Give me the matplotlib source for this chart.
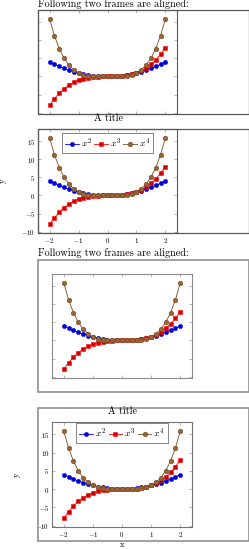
import numpy as np
import matplotlib
matplotlib.use('Agg')
import matplotlib.pyplot as plt
from matplotlib.patches import Rectangle

plt.rcParams['font.family'] = 'cmr10'
plt.rcParams['mathtext.fontset'] = 'cm'
plt.rcParams['axes.formatter.use_mathtext'] = True
plt.rcParams['axes.unicode_minus'] = True

W, H = 249, 549

# 25 samples on [-2, 2]
x = [-2.0, -1.833, -1.667, -1.5, -1.333, -1.167, -1.0, -0.833, -0.667, -0.5, -0.333, -0.167, 0.0,
     0.167, 0.333, 0.5, 0.667, 0.833, 1.0, 1.167, 1.333, 1.5, 1.667, 1.833, 2.0]
y_sq = [4.0, 3.361, 2.778, 2.25, 1.778, 1.361, 1.0, 0.694, 0.444, 0.25, 0.111, 0.028, 0.0,
        0.028, 0.111, 0.25, 0.444, 0.694, 1.0, 1.361, 1.778, 2.25, 2.778, 3.361, 4.0]
y_cube = [-8.0, -6.162, -4.630, -3.375, -2.370, -1.588, -1.0, -0.579, -0.296, -0.125, -0.037, -0.005, 0.0,
          0.005, 0.037, 0.125, 0.296, 0.579, 1.0, 1.588, 2.370, 3.375, 4.630, 6.162, 8.0]
y_quart = [16.0, 11.297, 7.716, 5.063, 3.160, 1.853, 1.0, 0.482, 0.198, 0.063, 0.012, 0.001, 0.0,
           0.001, 0.012, 0.063, 0.198, 0.482, 1.0, 1.853, 3.160, 5.063, 7.716, 11.297, 16.0]
labels = ['$x^2$', '$x^3$', '$x^4$']
xticks = [-2, -1, 0, 1, 2]
yticks = [-10, -5, 0, 5, 10, 15]

fig = plt.figure(figsize=(W / 100, H / 100), dpi=100)


def box(x0, y0, x1, y1):
    return [x0 / W, 1 - y1 / H, (x1 - x0) / W, (y1 - y0) / H]


def frame(x0, y0, x1, y1, color, lw):
    fig.patches.append(Rectangle((x0 / W, 1 - y1 / H), (x1 - x0) / W, (y1 - y0) / H,
                                 transform=fig.transFigure, fill=False,
                                 edgecolor=color, linewidth=lw, zorder=0))


def panel(rect, labels_on, spine_col, leg_top):
    ax = fig.add_axes(rect)
    ax.plot(x, y_sq, color='blue', lw=0.6, marker='o', ms=3.0,
            mfc=(0, 0, 0.8), mec='blue', mew=0.4, label=labels[0])
    ax.plot(x, y_cube, color='red', lw=0.6, marker='s', ms=2.9,
            mfc=(0.8, 0, 0), mec='red', mew=0.4, label=labels[1])
    ax.plot(x, y_quart, color=(0.45, 0.3, 0.15), lw=0.6, marker='o', ms=3.3,
            mfc=(0.6, 0.4, 0.2), mec=(0.45, 0.3, 0.15), mew=0.4, label=labels[2])
    ax.set_xlim(-2.4, 2.4)
    ax.set_ylim(-10.4, 18.4)
    ax.set_xticks(xticks)
    ax.set_yticks(yticks)
    ax.tick_params(direction='in', length=2.5, width=0.5, color='0.6',
                   top=True, right=True, labelsize=5, pad=2,
                   labelleft=labels_on, labelbottom=labels_on)
    for s in ax.spines.values():
        s.set_color(spine_col)
        s.set_linewidth(0.8)
    if labels_on:
        leg = ax.legend(loc='upper center', bbox_to_anchor=(0.5, leg_top), ncol=3,
                        fontsize=7, frameon=True, fancybox=False, borderaxespad=0,
                        handlelength=1.4, handletextpad=0.2, columnspacing=0.25,
                        borderpad=0.35)
        leg.get_frame().set_edgecolor('0.3')
        leg.get_frame().set_linewidth(0.6)
    return ax


# top pair
fig.text(38 / W, 1 - 4 / H, 'Following two frames are aligned:', fontsize=7.3, va='center', ha='left')
frame(38, 10, 248.5, 114, '0.35', 0.9)
panel(box(38, 10, 177, 114), False, '0.35', 0.96)
fig.text(108 / W, 1 - 118 / H, 'A title', fontsize=7.3, va='center', ha='center')
frame(38, 129, 248.5, 233, '0.35', 0.9)
panel(box(38, 129, 177, 233), True, '0.35', 0.96)
fig.text(3 / W, 1 - 181 / H, 'y', fontsize=6, va='center', ha='center', rotation=90)

# bottom pair
fig.text(38 / W, 1 - 253 / H, 'Following two frames are aligned:', fontsize=7.3, va='center', ha='left')
frame(38, 260, 248.5, 392, '0.6', 1.3)
panel(box(52, 274, 192, 378), False, '0.55', 0.99)
frame(38, 408, 248.5, 541, '0.6', 1.3)
panel(box(52, 422, 192, 527), True, '0.45', 0.99)
fig.text(122 / W, 1 - 411 / H, 'A title', fontsize=7.3, va='center', ha='center')
fig.text(17 / W, 1 - 475 / H, 'y', fontsize=6, va='center', ha='center', rotation=90)
fig.text(122 / W, 1 - 545 / H, 'x', fontsize=6, va='center', ha='center')

fig.savefig('out.png', dpi=100)
